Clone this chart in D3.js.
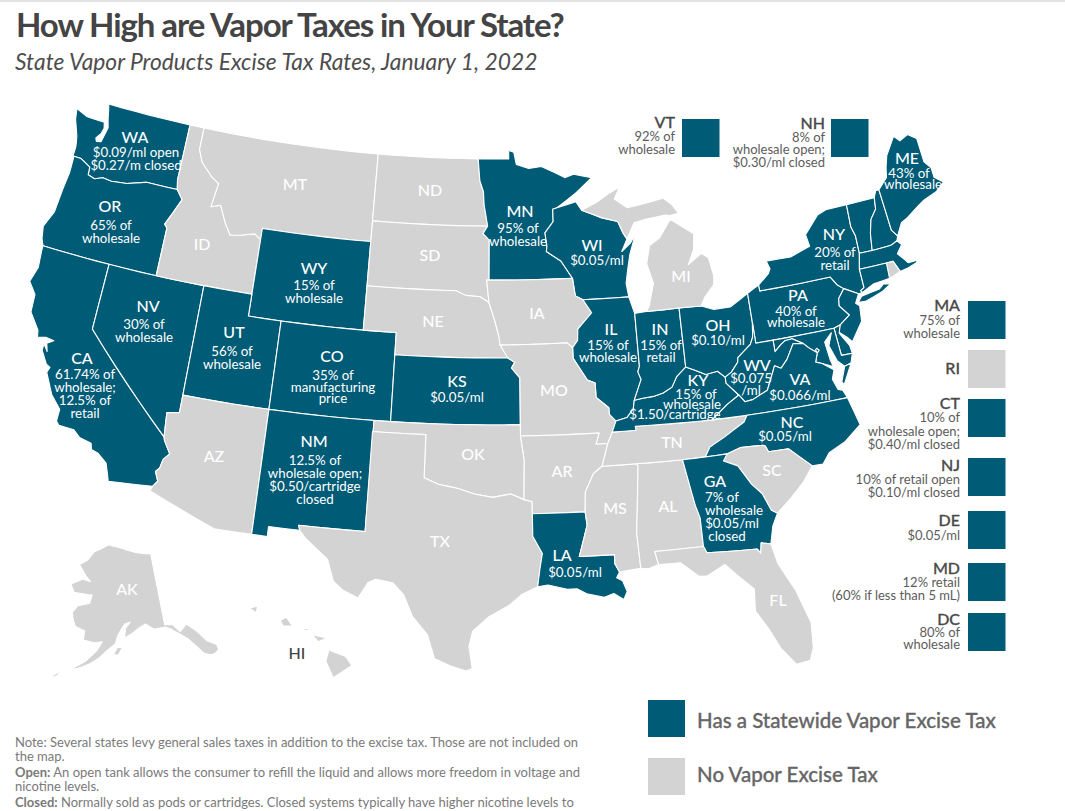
<!DOCTYPE html>
<html>
<head>
<meta charset="utf-8">
<script src="https://cdn.jsdelivr.net/npm/d3@7"></script>
<style>
html, body { margin: 0; padding: 0; background: #fff; overflow: hidden; }
text { font-family: Lato, sans-serif; }
</style>
</head>
<body>
<svg id="chart" width="1065" height="811"></svg>
<script>
// State outlines, lon/lat
var WA = [[-124.73,48.38],[-123.9,48.16],[-123.1,48.15],[-122.7,48.14],[-122.6,47.88],[-122.7,47.6],[-122.95,47.35],[-122.85,47.2],[-122.55,47.25],[-122.45,47.6],[-122.35,47.95],[-122.5,48.3],[-122.65,48.75],[-122.75,49],[-117.03,49],[-117.04,46.42],[-116.92,46],[-118.98,46],[-119.3,45.93],[-120.2,45.73],[-121.2,45.65],[-121.8,45.7],[-122.3,45.55],[-122.76,45.65],[-122.8,46],[-123.2,46.15],[-123.5,46.26],[-124.05,46.27],[-124.05,46.7],[-124.1,46.9],[-124.2,47.2],[-124.6,47.9]];
var OR = [[-124.05,46.27],[-123.5,46.26],[-123.2,46.15],[-122.8,46],[-122.76,45.65],[-122.3,45.55],[-121.8,45.7],[-121.2,45.65],[-120.2,45.73],[-119.3,45.93],[-118.98,46],[-116.92,46],[-116.47,45.6],[-116.85,44.95],[-117.22,44.35],[-117.03,44.2],[-117.03,42],[-124.21,42],[-124.4,42.3],[-124.55,42.84],[-124.15,43.6],[-124.06,44.7],[-123.95,45.5],[-123.98,46.2]];
var CA = [[-124.21,42],[-120,42],[-120,39],[-114.63,35],[-114.57,34.85],[-114.14,34.3],[-114.44,34],[-114.53,33.6],[-114.72,33.4],[-114.5,33],[-114.72,32.72],[-117.12,32.53],[-117.25,32.85],[-117.45,33.3],[-118,33.65],[-118.4,33.75],[-118.5,34.02],[-119.2,34.15],[-119.6,34.42],[-120.47,34.45],[-120.65,34.6],[-120.65,35.15],[-121.3,35.7],[-121.9,36.6],[-121.8,36.85],[-122.05,36.95],[-122.5,37.5],[-122.5,37.8],[-122.2,37.5],[-122.35,37.85],[-122,38.05],[-122.5,38.1],[-122.97,38],[-123.05,38.3],[-123.75,39],[-123.82,39.8],[-124.35,40.3],[-124.1,41],[-124.2,41.75]];
var NV = [[-120,42],[-114.04,42],[-114.04,36.2],[-114.74,36.1],[-114.63,35],[-120,39]];
var ID = [[-117.03,42],[-111.05,42],[-111.05,44.48],[-111.47,44.7],[-112.3,44.55],[-113,44.45],[-113.45,44.95],[-113.95,45.7],[-114.55,45.55],[-114.35,46.65],[-114.9,46.9],[-115.7,47.45],[-116.05,48],[-116.05,49],[-117.03,49],[-117.04,46.42],[-116.92,46],[-116.47,45.6],[-116.85,44.95],[-117.22,44.35],[-117.03,44.2]];
var MT = [[-116.05,49],[-104.05,49],[-104.05,45],[-111.05,45],[-111.05,44.48],[-111.47,44.7],[-112.3,44.55],[-113,44.45],[-113.45,44.95],[-113.95,45.7],[-114.55,45.55],[-114.35,46.65],[-114.9,46.9],[-115.7,47.45],[-116.05,48]];
var WY = [[-111.05,45],[-104.05,45],[-104.05,41],[-111.05,41]];
var UT = [[-114.04,42],[-111.05,42],[-111.05,41],[-109.05,41],[-109.05,37],[-114.04,37]];
var CO = [[-109.05,41],[-102.05,41],[-102.05,37],[-109.05,37]];
var AZ = [[-114.04,37],[-109.05,37],[-109.05,31.33],[-111.07,31.33],[-114.81,32.5],[-114.72,32.72],[-114.5,33],[-114.72,33.4],[-114.53,33.6],[-114.44,34],[-114.14,34.3],[-114.57,34.85],[-114.63,35],[-114.74,36.1],[-114.04,36.2]];
var NM = [[-109.05,37],[-103,37],[-103.04,32],[-106.62,32],[-106.53,31.78],[-108.21,31.78],[-108.21,31.33],[-109.05,31.33]];
var ND = [[-104.05,49],[-97.23,49],[-97.1,48],[-96.85,47.5],[-96.8,46.9],[-96.56,45.94],[-104.05,45.94]];
var SD = [[-104.05,45.94],[-96.56,45.94],[-96.85,45.6],[-96.45,45.3],[-96.45,43.5],[-96.6,43.5],[-96.45,42.49],[-97,42.75],[-97.9,42.8],[-98.5,43],[-104.05,43]];
var NE = [[-104.05,43],[-98.5,43],[-97.9,42.8],[-97,42.75],[-96.45,42.49],[-96.1,41.7],[-95.85,41],[-95.31,40],[-102.05,40],[-102.05,41],[-104.05,41]];
var KS = [[-102.05,40],[-95.31,40],[-94.9,39.8],[-95.1,39.55],[-94.61,39.1],[-94.62,37],[-102.05,37]];
var OK = [[-103,37],[-94.62,37],[-94.62,36.5],[-94.43,35.4],[-94.48,33.64],[-95.2,33.9],[-96.2,33.75],[-97.2,33.9],[-98.1,34.13],[-99.2,34.3],[-100,34.56],[-100,36.5],[-103,36.5]];
var TX = [[-103.04,36.5],[-100,36.5],[-100,34.56],[-99.2,34.3],[-98.1,34.13],[-97.2,33.9],[-96.2,33.75],[-95.2,33.9],[-94.48,33.64],[-94.04,33.55],[-94.04,31.99],[-93.55,31.2],[-93.7,30.5],[-93.84,29.7],[-94.7,29.35],[-95.3,28.9],[-96.4,28.35],[-97.2,27.7],[-97.38,27],[-97.2,26],[-97.5,25.88],[-98.2,26.07],[-99.1,26.42],[-99.5,27.5],[-100.3,28.3],[-100.8,29.25],[-101.4,29.77],[-102.3,29.88],[-102.7,29.7],[-103.15,28.98],[-104,29.3],[-104.5,29.65],[-104.9,30.6],[-106.2,31.47],[-106.53,31.78],[-106.62,32],[-103.04,32]];
var MN = [[-97.23,49],[-95.15,49],[-95.15,49.38],[-94.8,49.3],[-94.64,48.74],[-93.8,48.55],[-92.95,48.62],[-92,48.3],[-91.4,48.07],[-90.8,48.2],[-89.6,48],[-90.8,47.3],[-92,46.72],[-92.29,46.66],[-92.29,46.1],[-92.85,45.6],[-92.75,45],[-92.8,44.75],[-91.9,44.3],[-91.22,43.5],[-96.45,43.5],[-96.45,45.3],[-96.85,45.6],[-96.56,45.94],[-96.8,46.9],[-96.85,47.5],[-97.1,48]];
var WI = [[-92.29,46.66],[-92,46.72],[-91.2,46.86],[-90.75,46.95],[-90.4,46.55],[-89.1,46.14],[-88.1,45.92],[-87.8,45.35],[-87.6,45.1],[-88,44.55],[-87.4,44.9],[-87.05,45.25],[-87.5,44.4],[-87.7,43.8],[-87.9,43.1],[-87.8,42.49],[-90.64,42.51],[-91.1,42.7],[-91.22,43.5],[-91.9,44.3],[-92.8,44.75],[-92.75,45],[-92.85,45.6],[-92.29,46.1]];
var IA = [[-96.45,43.5],[-91.22,43.5],[-91.1,42.7],[-90.64,42.51],[-90.15,41.9],[-91.05,41.2],[-91.1,40.7],[-91.42,40.38],[-91.73,40.61],[-95.77,40.58],[-95.85,41],[-96.1,41.7],[-96.45,42.49],[-96.6,43.5]];
var IL = [[-90.64,42.51],[-87.8,42.49],[-87.53,41.72],[-87.53,39.35],[-87.65,39.1],[-87.5,38.75],[-88,37.85],[-88.1,37.47],[-88.5,37.1],[-89.15,36.98],[-89.5,37.3],[-89.5,37.6],[-90.2,38.1],[-90.2,38.75],[-90.65,38.9],[-91.42,39.9],[-91.42,40.38],[-91.1,40.7],[-91.05,41.2],[-90.15,41.9]];
var MO = [[-95.77,40.58],[-91.73,40.61],[-91.42,40.38],[-91.42,39.9],[-90.65,38.9],[-90.2,38.75],[-90.2,38.1],[-89.5,37.6],[-89.5,37.3],[-89.15,36.98],[-89.4,36.5],[-89.7,36],[-90.37,36],[-90.15,36.5],[-94.62,36.5],[-94.62,37],[-94.61,39.1],[-95.1,39.55],[-94.9,39.8],[-95.31,40]];
var AR = [[-94.62,36.5],[-90.15,36.5],[-90.37,36],[-89.7,36],[-90.1,35],[-90.6,34.7],[-91.1,33.9],[-91.17,33],[-94.04,33],[-94.04,33.55],[-94.48,33.64],[-94.43,35.4]];
var LA = [[-94.04,33],[-91.17,33],[-91.1,32.4],[-91.6,31],[-89.73,31],[-89.75,30.6],[-89.53,30.2],[-89.7,29.95],[-89.4,29.8],[-89.2,29.3],[-89.4,28.95],[-89.9,29.25],[-90.4,29.1],[-91.3,29.3],[-91.8,29.55],[-92.3,29.55],[-93.3,29.77],[-93.84,29.7],[-93.7,30.5],[-93.55,31.2],[-94.04,31.99]];
var MS = [[-90.1,35],[-88.2,35],[-88.1,34.9],[-88.47,31.9],[-88.4,30.3],[-89.53,30.2],[-89.75,30.6],[-89.73,31],[-91.6,31],[-91.1,32.4],[-91.17,33],[-91.1,33.9],[-90.6,34.7]];
var AL = [[-88.2,35],[-85.6,34.98],[-85.18,32.87],[-85,32.3],[-85,31],[-87.6,31],[-87.45,30.4],[-88,30.25],[-88.4,30.3],[-88.47,31.9],[-88.1,34.9]];
var TN = [[-89.7,36],[-89.4,36.5],[-88.05,36.5],[-88.07,36.68],[-83.68,36.6],[-81.68,36.59],[-81.9,36.3],[-82.6,36],[-83.1,35.77],[-84,35.4],[-84.32,34.99],[-85.6,34.98],[-88.2,35],[-90.1,35]];
var KY = [[-89.4,36.5],[-89.15,36.98],[-88.5,37.1],[-88.1,37.47],[-88,37.85],[-87.5,37.9],[-86.8,37.95],[-86.3,38.05],[-85.75,38.27],[-85.4,38.73],[-84.82,39.1],[-84.3,38.9],[-83.7,38.65],[-83,38.73],[-82.6,38.42],[-82.6,38.15],[-81.97,37.54],[-82.7,37.2],[-83.68,36.6],[-88.07,36.68],[-88.05,36.5]];
var IN = [[-87.53,41.72],[-87.2,41.75],[-86.8,41.76],[-84.8,41.76],[-84.82,39.1],[-85.4,38.73],[-85.75,38.27],[-86.3,38.05],[-86.8,37.95],[-87.5,37.9],[-88,37.85],[-87.5,38.75],[-87.65,39.1],[-87.53,39.35]];
var OH = [[-84.8,41.76],[-83.45,41.73],[-82.7,41.5],[-81.7,41.5],[-80.52,41.98],[-80.52,40.64],[-80.65,40],[-80.85,39.7],[-81.7,39.2],[-81.75,39],[-82.2,38.6],[-82.6,38.42],[-83,38.73],[-83.7,38.65],[-84.3,38.9],[-84.82,39.1]];
var MI = [[-86.8,41.76],[-84.8,41.76],[-83.45,41.73],[-83.15,42.1],[-82.5,42.6],[-82.42,43],[-82.6,43.85],[-83,44.07],[-83.9,43.65],[-83.45,44.3],[-83.3,45],[-84.7,45.78],[-85.5,45],[-86.2,44.7],[-86.5,43.9],[-86.2,43],[-86.6,42]];
var MI_UPPER = [[-90.4,46.55],[-89.1,46.14],[-88.1,45.92],[-87.8,45.35],[-87.6,45.1],[-87.05,45.8],[-86.3,45.9],[-85,46],[-84.7,45.95],[-84.1,46],[-84.5,46.45],[-85,46.77],[-86,46.65],[-87.4,46.5],[-88.2,46.95],[-87.8,47.47],[-88.6,47.2],[-89.4,46.85]];
var PA = [[-80.52,41.98],[-80.1,42.15],[-79.76,42.27],[-79.76,42],[-75.35,42],[-75.05,41.6],[-74.7,41.36],[-75.13,40.98],[-75.2,40.65],[-74.72,40.15],[-75.4,39.8],[-75.79,39.72],[-80.52,39.72],[-80.52,40.64]];
var NY = [[-79.76,42.27],[-79.05,42.7],[-78.9,42.9],[-79.05,43.27],[-77.5,43.25],[-76.2,43.55],[-76.3,44.1],[-75.3,44.85],[-74.7,45],[-73.34,45.01],[-73.4,44],[-73.25,43.55],[-73.27,42.75],[-73.5,42.05],[-73.49,41.2],[-73.73,41.1],[-73.65,41],[-73.9,40.99],[-74.7,41.36],[-75.05,41.6],[-75.35,42],[-79.76,42]];
var NY_LONG_ISLAND = [[-74.03,40.62],[-73.75,40.85],[-72.6,40.97],[-72.3,41.15],[-71.87,41.07],[-72.5,40.82],[-73.6,40.58]];
var NJ = [[-74.7,41.36],[-73.9,40.99],[-74.2,40.6],[-74,40.45],[-74.1,39.75],[-74.9,38.95],[-75.15,39.2],[-75.55,39.5],[-75.4,39.8],[-74.72,40.15],[-75.2,40.65],[-75.13,40.98]];
var DE = [[-75.79,39.72],[-75.4,39.8],[-75.55,39.45],[-75.1,38.8],[-75.05,38.45],[-75.7,38.46]];
var MD = [[-79.48,39.72],[-75.79,39.72],[-75.7,38.46],[-75.05,38.45],[-75.25,38.03],[-75.65,37.95],[-76,38.25],[-76.3,39],[-76,39.55],[-76.5,39.2],[-76.4,38.4],[-76.3,38.05],[-76.9,38.28],[-77.25,38.4],[-77.05,38.8],[-77.5,39.1],[-77.75,39.32],[-78.35,39.63],[-78.8,39.6],[-79.06,39.47],[-79.48,39.2]];
var WV = [[-80.52,40.64],[-80.52,39.72],[-79.48,39.72],[-79.48,39.2],[-79.06,39.47],[-78.8,39.6],[-78.35,39.63],[-77.75,39.32],[-78.35,39.4],[-78.87,38.76],[-79.3,38.42],[-79.65,38.58],[-80.3,37.55],[-81.22,37.24],[-81.68,37.2],[-81.97,37.54],[-82.6,38.15],[-82.6,38.42],[-82.2,38.6],[-81.75,39],[-81.7,39.2],[-80.85,39.7],[-80.65,40]];
var VA = [[-83.68,36.6],[-82.7,37.2],[-81.97,37.54],[-81.68,37.2],[-81.22,37.24],[-80.3,37.55],[-79.65,38.58],[-79.3,38.42],[-78.87,38.76],[-78.35,39.4],[-77.75,39.32],[-77.5,39.1],[-77.05,38.8],[-77.25,38.4],[-76.9,38.28],[-76.3,37.9],[-76.5,37.5],[-76.3,37],[-76.05,36.92],[-75.87,36.55],[-81.68,36.59]];
var VA_SHORE = [[-75.65,37.95],[-75.25,38.03],[-75.9,37.15],[-76,37.3]];
var DC = [[-77.12,38.93],[-77.04,39],[-76.91,38.89],[-77.04,38.79]];
var NC = [[-84.32,34.99],[-84,35.4],[-83.1,35.77],[-82.6,36],[-81.9,36.3],[-81.68,36.59],[-75.87,36.55],[-75.5,35.25],[-76.5,34.65],[-77.5,34.3],[-77.95,33.85],[-78.55,33.86],[-79.67,34.8],[-80.8,34.82],[-80.93,35.1],[-81.05,35.15],[-82.3,35.2],[-83.1,35]];
var SC = [[-83.1,35],[-82.3,35.2],[-81.05,35.15],[-80.93,35.1],[-80.8,34.82],[-79.67,34.8],[-78.55,33.86],[-79.2,33.2],[-80,32.6],[-80.85,32.03],[-81.15,32.2],[-81.5,33],[-82,33.5],[-82.6,34.4],[-83.35,34.7]];
var GA = [[-85.6,34.98],[-84.32,34.99],[-83.1,35],[-83.35,34.7],[-82.6,34.4],[-82,33.5],[-81.5,33],[-81.15,32.2],[-80.85,32.03],[-81.2,31.5],[-81.45,30.71],[-81.95,30.82],[-82.05,30.36],[-82.2,30.57],[-84.86,30.7],[-85,31],[-85,32.3],[-85.18,32.87]];
var FL = [[-87.6,31],[-85,31],[-84.86,30.7],[-82.2,30.57],[-82.05,30.36],[-81.95,30.82],[-81.45,30.71],[-81.25,29.8],[-80.55,28.45],[-80.05,26.9],[-80.15,25.75],[-80.4,25.2],[-81.1,25.12],[-81.75,25.95],[-82.2,26.9],[-82.75,27.8],[-82.65,28.8],[-83.4,29.5],[-84,30.08],[-85,29.65],[-85.4,29.68],[-86.3,30.38],[-87.45,30.4]];
var VT = [[-73.34,45.01],[-71.5,45.01],[-71.6,44.5],[-72.05,44.1],[-72.3,43.5],[-72.46,42.73],[-73.27,42.75],[-73.25,43.55],[-73.4,44]];
var NH = [[-71.5,45.01],[-71.3,45.3],[-71.08,45.3],[-70.98,43.4],[-70.7,43.07],[-70.82,42.87],[-71.25,42.74],[-72.46,42.73],[-72.3,43.5],[-72.05,44.1],[-71.6,44.5]];
var ME = [[-71.08,45.3],[-70.4,45.75],[-70.25,46.2],[-70,46.7],[-69.22,47.46],[-68.9,47.18],[-68.3,47.36],[-67.79,47.07],[-67.78,45.95],[-67.45,45.6],[-67.45,45.15],[-66.97,44.82],[-67.6,44.5],[-68.5,44.3],[-69,44.1],[-69.8,43.75],[-70.25,43.6],[-70.7,43.07],[-70.98,43.4]];
var MA = [[-73.5,42.05],[-73.27,42.75],[-72.46,42.73],[-71.25,42.74],[-70.82,42.87],[-70.6,42.65],[-71,42.3],[-70.65,41.95],[-70.5,41.78],[-70,41.78],[-70.2,42.08],[-69.95,41.7],[-70.65,41.55],[-71.12,41.5],[-71.38,42.02],[-71.8,42.02]];
var RI = [[-71.8,42.02],[-71.38,42.02],[-71.12,41.5],[-71.85,41.32]];
var CT = [[-73.5,42.05],[-71.8,42.02],[-71.85,41.32],[-72.9,41.25],[-73.65,41],[-73.73,41.1],[-73.49,41.2]];
var AK = [[-141,69.65],[-141,60.3],[-139,60.1],[-137.5,59],[-135.5,59.75],[-134,58.8],[-133.4,58.4],[-131.9,56.9],[-130,56],[-130,55.3],[-131,55],[-132,55],[-133.5,55.5],[-134.5,56.5],[-136,57.8],[-137.5,58.6],[-139.7,59.6],[-141,60],[-144,60],[-146,60.8],[-148,60.3],[-149.5,59.8],[-151.7,59.2],[-151.3,60.5],[-150,61.2],[-151.5,61],[-152.5,60.3],[-153.5,59.4],[-154,58.5],[-156,57.6],[-158,56.5],[-160,55.7],[-162.5,55],[-164.8,54.6],[-163,55.2],[-161,56],[-158.5,57.5],[-157.3,58.7],[-159,58.5],[-162,58.7],[-162,59.9],[-164.5,60.3],[-165.3,61],[-166,62],[-164.8,63],[-161.5,63.5],[-161,64.6],[-163,64.6],[-166.5,64.6],[-168,65.6],[-164.5,66.5],[-162,66.3],[-163.8,67],[-166.5,68.3],[-164,69],[-162,70.2],[-156.6,71.3],[-152,70.9],[-146,70.1]];
var AK_KODIAK = [[-152.3,58],[-153.3,57],[-154.5,57.1],[-153.5,58]];
var AK_UNALASKA = [[-166.2,53.95],[-167.5,53.3],[-167.8,53.5],[-166.8,54]];
var HI_BIG = [[-155.9,20.2],[-155.1,19.9],[-154.8,19.5],[-155.7,18.95],[-156.05,19.7]];
var HI_MAUI = [[-156.7,20.9],[-156,20.75],[-156.4,20.58]];
var HI_MOLOKAI = [[-157.25,21.2],[-156.75,21.17],[-157,21.08]];
var HI_OAHU = [[-158.25,21.55],[-157.95,21.7],[-157.65,21.3],[-158.1,21.3]];
var HI_KAUAI = [[-159.75,22.1],[-159.35,22.2],[-159.4,21.9]];

var stateRings = {
	WA: [WA], OR: [OR], CA: [CA], NV: [NV], ID: [ID], MT: [MT], WY: [WY], UT: [UT], CO: [CO], AZ: [AZ], NM: [NM],
	ND: [ND], SD: [SD], NE: [NE], KS: [KS], OK: [OK], TX: [TX], MN: [MN], WI: [WI], IA: [IA], IL: [IL], MO: [MO],
	AR: [AR], LA: [LA], MS: [MS], AL: [AL], TN: [TN], KY: [KY], IN: [IN], OH: [OH], MI: [MI, MI_UPPER], PA: [PA],
	NY: [NY, NY_LONG_ISLAND], NJ: [NJ], DE: [DE], MD: [MD], WV: [WV], VA: [VA, VA_SHORE], DC: [DC], NC: [NC], SC: [SC],
	GA: [GA], FL: [FL], VT: [VT], NH: [NH], ME: [ME], MA: [MA], RI: [RI], CT: [CT], AK: [AK, AK_KODIAK, AK_UNALASKA],
	HI: [HI_BIG, HI_MAUI, HI_MOLOKAI, HI_OAHU, HI_KAUAI]
};

var taxedStates = ["WA","OR","CA","NV","WY","UT","CO","NM","KS","MN","WI","IL","IN","OH","KY","WV","VA","NC","GA","LA","PA","NY","ME","VT","NH","MA","CT","NJ","DE","MD","DC"];

// Rate text for the states labelled on the map
var mapRates = {
	WA: ["$0.09/ml open", "$0.27/m closed"], OR: ["65% of", "wholesale"], CA: ["61.74% of", "wholesale;", "12.5% of", "retail"],
	NV: ["30% of", "wholesale"], WY: ["15% of", "wholesale"], UT: ["56% of", "wholesale"], CO: ["35% of", "manufacturing", "price"],
	NM: ["12.5% of", "wholesale open;", "$0.50/cartridge", "closed"], KS: ["$0.05/ml"], MN: ["95% of", "wholesale"], WI: ["$0.05/ml"],
	IL: ["15% of", "wholesale"], IN: ["15% of", "retail"], OH: ["$0.10/ml"], PA: ["40% of", "wholesale"], NY: ["20% of", "retail"],
	ME: ["43% of", "wholesale"], LA: ["$0.05/ml"], GA: ["7% of", "wholesale", "$0.05/ml", "closed"], NC: ["$0.05/ml"], VA: ["$0.066/ml"],
	WV: ["$0.075", "/ml"], KY: ["15% of", "wholesale", "$1.50/cartridge"]
};

// Small states called out beside the map
var calloutStates = ["VT","NH","MA","RI","CT","NJ","DE","MD","DC"];
var calloutRates = {
	VT: ["92% of", "wholesale"], NH: ["8% of", "wholesale open;", "$0.30/ml closed"], MA: ["75% of", "wholesale"], RI: [],
	CT: ["10% of", "wholesale open;", "$0.40/ml closed"], NJ: ["10% of retail open", "$0.10/ml closed"], DE: ["$0.05/ml"],
	MD: ["12% retail", "(60% if less than 5 mL)"], DC: ["80% of", "wholesale"]
};

var legendLabels = ["Has a Statewide Vapor Excise Tax", "No Vapor Excise Tax"];

var titleText = "How High are Vapor Taxes in Your State?";
var subtitleText = "State Vapor Products Excise Tax Rates, January 1, 2022";
var noteLines = [
	[["", "Note: Several states levy general sales taxes in addition to the excise tax. Those are not included on"]],
	[["", "the map."]],
	[["Open:", " An open tank allows the consumer to refill the liquid and allows more freedom in voltage and"]],
	[["", "nicotine levels."]],
	[["Closed:", " Normally sold as pods or cartridges. Closed systems typically have higher nicotine levels to"]]
];

var colorTaxed = "#005b76";
var colorNone = "#d3d3d3";

var svg = d3.select("#chart");

// thin page edge along the top
svg.append("rect").attr("width", 1065).attr("height", 2).attr("fill", "#e2e2e2");

var albers = d3.geoAlbersUsa().scale(1266).translate([486, 387]);
// the insets sit a little right of where AlbersUsa puts them
var alaskaShift = [10, 2];
var hawaiiShift = [17, 1];
var path = d3.geoPath(d3.geoTransform({
	point: function (lon, lat) {
		var p = albers([lon, lat]);
		if (!p) return;
		var shift = lat > 50 ? alaskaShift : (lat < 23 && lon < -150 ? hawaiiShift : [0, 0]);
		this.stream.point(p[0] + shift[0], p[1] + shift[1]);
	}
}));

// split long edges so parallels keep their curve
function densify(ring) {
	var out = [];
	ring.concat([ring[0]]).forEach(function (pt, i, all) {
		if (i > 0) {
			var prev = all[i - 1];
			var steps = Math.ceil(Math.max(Math.abs(pt[0] - prev[0]), Math.abs(pt[1] - prev[1])));
			d3.range(1, steps).forEach(function (s) {
				out.push([prev[0] + (pt[0] - prev[0]) * s / steps, prev[1] + (pt[1] - prev[1]) * s / steps]);
			});
		}
		out.push(pt);
	});
	return out;
}

var features = Object.keys(stateRings).map(function (code) {
	return {
		type: "Feature",
		id: code,
		geometry: { type: "MultiPolygon", coordinates: stateRings[code].map(function (r) { return [densify(r)]; }) }
	};
});

svg.append("g").selectAll("path")
	.data(features)
	.enter().append("path")
	.attr("d", path)
	.attr("fill", function (d) { return taxedStates.indexOf(d.id) >= 0 ? colorTaxed : colorNone; })
	.attr("stroke", "#fff")
	.attr("stroke-width", 1.1)
	.attr("stroke-linejoin", "round");

// Title
svg.append("text").attr("x", 16).attr("y", 37).text(titleText)
	.attr("font-size", 33).attr("font-weight", 700).attr("fill", "#444").attr("letter-spacing", -1.08);
svg.append("text").attr("x", 15).attr("y", 70).text(subtitleText)
	.attr("font-size", 22.8).attr("font-style", "italic").attr("fill", "#4d4d4d");

// Map labels: [code x, rate x, centre y of each row]
var labelRows = {
	WA: [135, 136, 137, 152, 165], OR: [110, 111, 206, 225, 238], ID: [202, 0, 244], MT: [295, 0, 184], ND: [430, 0, 190], SD: [430, 0, 255], NE: [433, 0, 321],
	WY: [314, 314, 268, 285, 298], NV: [148, 144, 306, 324, 337], UT: [234, 232, 332, 351, 364], CO: [332, 333, 356, 375, 387, 398],
	CA: [82, 85, 358, 374, 387, 400, 413], NM: [314, 315, 441, 460, 473, 486, 499], AZ: [214, 0, 456], KS: [457, 457, 381, 397], OK: [473, 0, 454],
	TX: [440, 0, 541], MN: [520, 518, 211, 228, 241], WI: [592, 597, 245, 260], IA: [537, 0, 313], IL: [611, 608, 329, 345, 357], IN: [660, 661, 329, 345, 357],
	OH: [718, 718, 325, 340], MI: [681, 0, 276], PA: [798, 796, 295, 311, 322], NY: [834, 835, 234, 252, 265], ME: [907, 911, 158, 173, 184], MO: [554, 0, 390],
	AR: [562, 0, 471], LA: [562, 575, 555, 572], MS: [615, 0, 508], AL: [668, 0, 506], GA: [715, 730, 481, 497, 510, 523, 536], TN: [672, 0, 442], SC: [772, 0, 470],
	NC: [792, 785, 422, 436], VA: [800, 800, 379, 395], WV: [757, 751, 365, 378, 390], KY: [698, 690, 380, 394, 404, 414], FL: [778, 0, 600], AK: [127, 0, 589]
};
// Labels whose rows do not share one centre
var rateRowX = { KY: [696, 692, 675], GA: [722, 734, 732, 727], ME: [909, 913] };

var mapLabels = svg.append("g").attr("text-anchor", "middle").attr("fill", "#fff");
Object.keys(labelRows).forEach(function (code) {
	var row = labelRows[code];
	var rates = mapRates[code] || [];
	mapLabels.append("text").attr("x", row[0]).attr("y", row[2]).attr("dy", "0.35em")
		.attr("font-size", 16).attr("font-weight", 500).text(code);
	rates.forEach(function (line, i) {
		mapLabels.append("text").attr("x", rateRowX[code] ? rateRowX[code][i] : row[1]).attr("y", row[i + 3]).attr("dy", "0.35em")
			.attr("font-size", 13.3).text(line);
	});
});

svg.append("text").attr("x", 297).attr("y", 653).attr("dy", "0.35em").attr("text-anchor", "middle")
	.attr("font-size", 16).attr("font-weight", 500).attr("fill", "#444").text("HI");

// Callouts: [box x, box y, text right edge, centre y of each row]
var calloutLayout = {
	VT: [682, 119, 675, 122, 136, 149], NH: [831, 119, 825, 123, 137, 149, 162], MA: [968, 301, 960, 305, 320, 333], RI: [968, 350, 960, 368],
	CT: [968, 399, 960, 403, 417, 431, 444], NJ: [968, 458, 960, 465, 479, 492], DE: [968, 511, 960, 520, 535],
	MD: [968, 563, 960, 568, 582, 595], DC: [968, 613, 960, 619, 632, 644]
};
var callouts = svg.append("g");
calloutStates.forEach(function (code) {
	var lay = calloutLayout[code];
	callouts.append("rect").attr("x", lay[0]).attr("y", lay[1]).attr("width", 37.5).attr("height", 38)
		.attr("fill", taxedStates.indexOf(code) >= 0 ? colorTaxed : colorNone);
	callouts.append("text").attr("x", lay[2]).attr("y", lay[3]).attr("dy", "0.35em").attr("text-anchor", "end")
		.attr("font-size", 16).attr("font-weight", 500).attr("fill", "#4a4a4a").attr("stroke", "#4a4a4a").attr("stroke-width", 0.3).text(code);
	calloutRates[code].forEach(function (line, i) {
		callouts.append("text").attr("x", lay[2]).attr("y", lay[i + 4]).attr("dy", "0.35em").attr("text-anchor", "end")
			.attr("font-size", 13).attr("fill", "#5c5c5c").text(line);
	});
});

// Legend
var legendY = d3.scalePoint().domain(legendLabels).range([700, 758]);
var legendTextY = d3.scalePoint().domain(legendLabels).range([721, 775]);
var legend = svg.append("g").selectAll("g").data(legendLabels).enter().append("g");
legend.append("rect").attr("x", 648).attr("y", function (d) { return legendY(d); }).attr("width", 37).attr("height", 37)
	.attr("fill", function (d, i) { return i === 0 ? colorTaxed : colorNone; });
legend.append("text").attr("x", 697).attr("y", function (d) { return legendTextY(d); }).attr("dy", "0.35em")
	.attr("font-size", 20.5).attr("font-weight", 500).attr("fill", "#666").attr("stroke", "#666").attr("stroke-width", 0.3)
	.text(function (d) { return d; });

// Notes, cut by the bottom of the page as in the original
var noteY = [747, 761, 777, 791, 807];
var notes = svg.append("g").attr("font-size", 13).attr("fill", "#7a7a7a");
noteLines.forEach(function (parts, i) {
	var t = notes.append("text").attr("x", 15).attr("y", noteY[i]);
	parts.forEach(function (p) {
		if (p[0]) t.append("tspan").attr("font-weight", 700).text(p[0]);
		t.append("tspan").text(p[1]);
	});
});
</script>
</body>
</html>
